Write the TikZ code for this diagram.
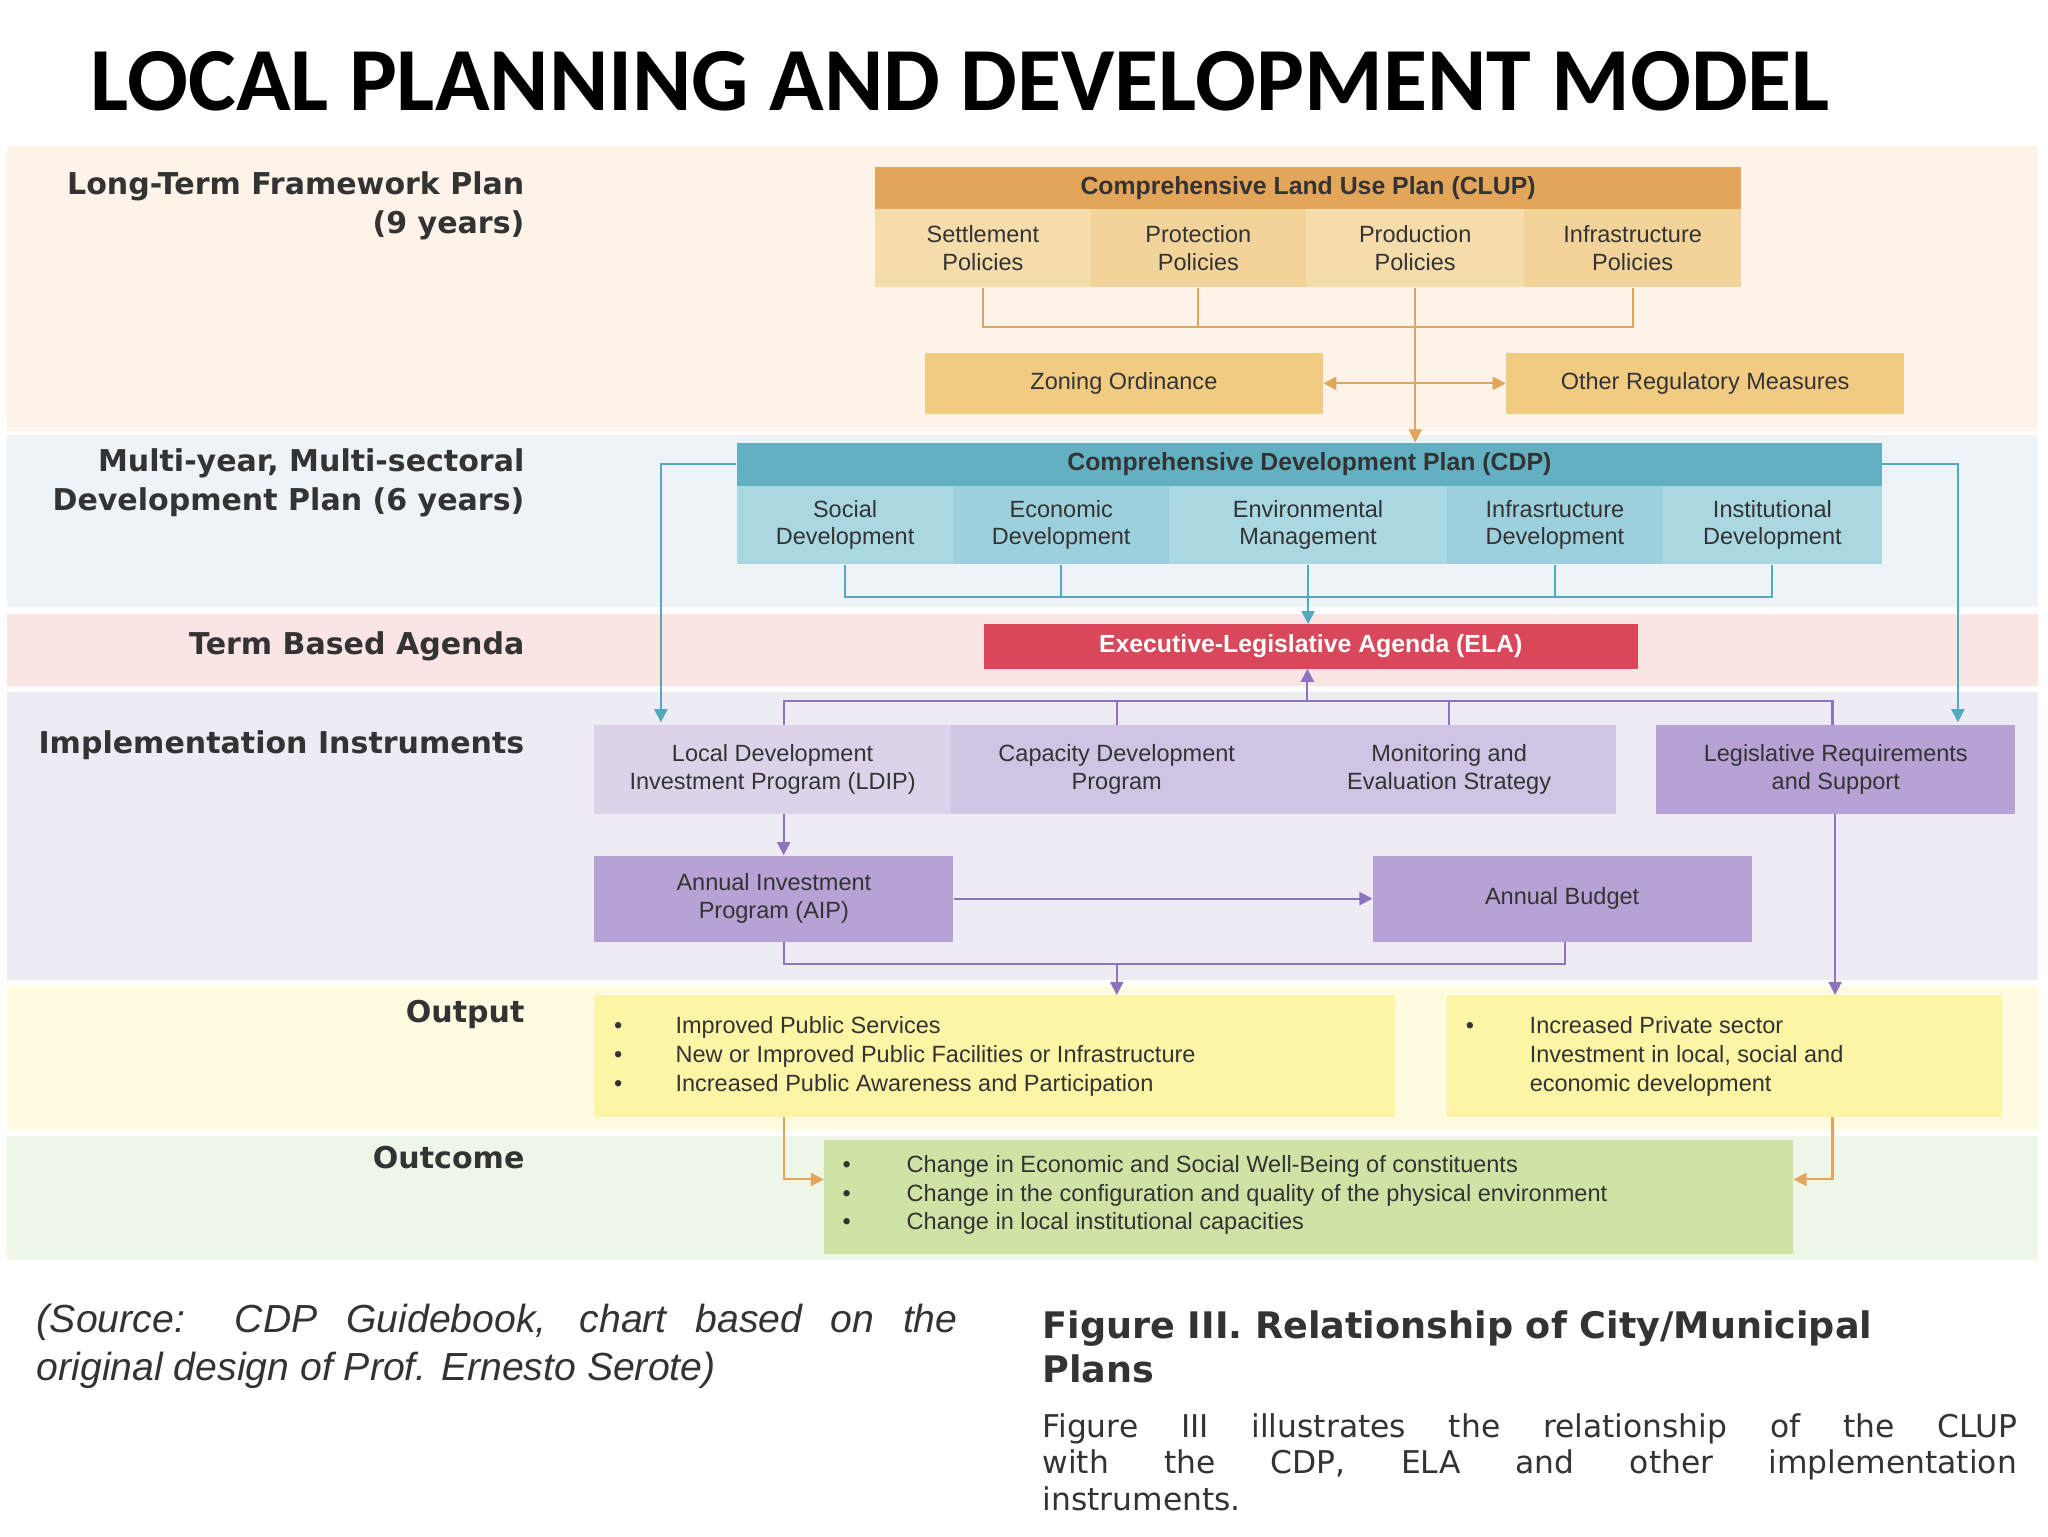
\documentclass[tikz,border=0pt]{standalone}
\usepackage{fontspec}
\setmainfont{Liberation Sans}
\newfontfamily\titlefont{Carlito}
\newfontfamily\capfont{DejaVu Sans}
\usetikzlibrary{arrows.meta,calc}
\definecolor{bandA}{HTML}{FDF3E8}
\definecolor{bandB}{HTML}{EEF3F8}
\definecolor{bandC}{HTML}{FBE4E4}
\definecolor{bandD}{HTML}{EFEBF5}
\definecolor{bandE}{HTML}{FEFBE0}
\definecolor{bandF}{HTML}{EEF6E8}
\definecolor{orH}{HTML}{E3A55A}
\definecolor{orS}{HTML}{F5DCAB}
\definecolor{orS2}{HTML}{F2D39A}
\definecolor{orZ}{HTML}{F2CB82}
\definecolor{tlH}{HTML}{62B0C2}
\definecolor{tlS}{HTML}{A9D8E3}
\definecolor{tlS2}{HTML}{9DD0DD}
\definecolor{elaC}{HTML}{D8475A}
\definecolor{puL}{HTML}{DCD3EA}
\definecolor{puM}{HTML}{D0C4E4}
\definecolor{puD}{HTML}{B6A2D4}
\definecolor{yeO}{HTML}{FDF5A6}
\definecolor{grO}{HTML}{CFE3A5}
\definecolor{orL}{HTML}{E3A55A}
\definecolor{tlL}{HTML}{52AABF}
\definecolor{puLn}{HTML}{8E73BF}
\definecolor{txt}{HTML}{333333}
\newcommand\bx[7]{\node[#6, minimum width={(#4-#2)*1pt}, minimum height={(#5-#3)*1pt}] (#1) at ({(#2+#4)/2},{(#3+#5)/2}) {#7};}
\tikzset{
 base/.style={inner sep=0pt, align=center, text=txt, font=\fontsize{18}{21}\selectfont},
 hdr/.style={base, font=\fontsize{19}{21}\selectfont\bfseries},
 lbl/.style={anchor=north east, align=right, text=txt, font=\capfont\fontsize{23}{30}\selectfont\bfseries},
 arr/.style={-{Triangle[width=10pt,length=10pt]}},
 ol/.style={draw=orL, line width=1.6pt},
 tl/.style={draw=tlL, line width=1.6pt},
 pl/.style={draw=puLn, line width=1.6pt},
}
\begin{document}
\begin{tikzpicture}[x=1pt,y=-1pt]
\useasboundingbox (0,0) rectangle (1568,1176);
\fill[white] (0,0) rectangle (1568,1176);
\node[anchor=west, font=\titlefont\fontsize{69}{72}\selectfont\bfseries] (title) at (66,62) {LOCAL PLANNING AND DEVELOPMENT MODEL};
% bands
\fill[bandA] (5,112) rectangle (1560,330);
\fill[bandB] (5,333) rectangle (1560,465);
\fill[bandC] (5,470) rectangle (1560,525);
\fill[bandD] (5,530) rectangle (1560,750);
\fill[bandE] (5,755) rectangle (1560,865);
\fill[bandF] (5,870) rectangle (1560,965);
% labels
\node[lbl] (l1) at (405,128) {Long-Term Framework Plan\\(9 years)};
\node[lbl] (l2) at (405,340) {Multi-year, Multi-sectoral\\Development Plan (6 years)};
\node[lbl] (l3) at (405,480) {Term Based Agenda};
\node[lbl] (l4) at (405,556) {Implementation Instruments};
\node[lbl] (l5) at (405,762) {Output};
\node[lbl] (l6) at (405,874) {Outcome};
% CLUP
\bx{clup}{670}{128}{1333}{160}{hdr,fill=orH}{Comprehensive Land Use Plan (CLUP)}
\bx{s1}{670}{160}{835}{220}{base,fill=orS}{Settlement\\Policies}
\bx{s2}{835}{160}{1000}{220}{base,fill=orS2}{Protection\\Policies}
\bx{s3}{1000}{160}{1167}{220}{base,fill=orS}{Production\\Policies}
\bx{s4}{1167}{160}{1333}{220}{base,fill=orS2}{Infrastructure\\Policies}
\bx{zon}{708}{270}{1013}{317}{base,fill=orZ}{Zoning Ordinance}
\bx{oth}{1153}{270}{1458}{317}{base,fill=orZ}{Other Regulatory Measures}
% CDP
\bx{cdp}{564}{339}{1441}{372}{hdr,fill=tlH}{Comprehensive Development Plan (CDP)}
\bx{c1}{564}{372}{730}{432}{base,fill=tlS}{Social\\Development}
\bx{c2}{730}{372}{895}{432}{base,fill=tlS2}{Economic\\Development}
\bx{c3}{895}{372}{1108}{432}{base,fill=tlS}{Environmental\\Management}
\bx{c4}{1108}{372}{1273}{432}{base,fill=tlS2}{Infrasrtucture\\Development}
\bx{c5}{1273}{372}{1441}{432}{base,fill=tlS}{Institutional\\Development}
% ELA
\bx{ela}{753}{478}{1254}{512}{hdr,fill=elaC,text=white}{Executive-Legislative Agenda (ELA)}
% Implementation
\bx{i1}{455}{555}{728}{623}{base,fill=puL}{Local Development\\Investment Program (LDIP)}
\bx{i2}{728}{555}{982}{623}{base,fill=puM}{Capacity Development\\Program}
\bx{i3}{982}{555}{1237}{623}{base,fill=puM}{Monitoring and\\Evaluation Strategy}
\bx{i4}{1268}{555}{1543}{623}{base,fill=puD}{Legislative Requirements\\and Support}
\bx{aip}{455}{655}{730}{721}{base,fill=puD}{Annual Investment\\Program (AIP)}
\bx{bud}{1051}{655}{1341}{721}{base,fill=puD}{Annual Budget}
% Output
\bx{o1}{455}{762}{1068}{855}{base,fill=yeO}{}
\bx{o2}{1108}{762}{1533}{855}{base,fill=yeO}{}
\node[anchor=north west, text=txt, font=\fontsize{18}{22}\selectfont, inner sep=0pt] (o1t) at (470,776)
 {\begin{tabular}{@{}p{47pt}@{}l@{}}\textbullet & Improved Public Services\\ \textbullet & New or Improved Public Facilities or Infrastructure\\ \textbullet & Increased Public Awareness and Participation\end{tabular}};
\node[anchor=north west, text=txt, font=\fontsize{18}{22}\selectfont, inner sep=0pt] (o2t) at (1122,776)
 {\begin{tabular}{@{}p{49pt}@{}l@{}}\textbullet & Increased Private sector\\ & Investment in local, social and\\ & economic development\end{tabular}};
% Outcome
\bx{oc}{631}{873}{1373}{960}{base,fill=grO}{}
\node[anchor=north west, text=txt, font=\fontsize{18}{22}\selectfont, inner sep=0pt] (oct) at (645,882)
 {\begin{tabular}{@{}p{49pt}@{}l@{}}\textbullet & Change in Economic and Social Well-Being of constituents\\ \textbullet & Change in the configuration and quality of the physical environment\\ \textbullet & Change in local institutional capacities\end{tabular}};
% connectors CLUP
\draw[ol] (s1.south) -- ++(0,30) -| (s4.south);
\draw[ol] (s2.south) -- ++(0,30);
\draw[ol,arr] (s3.south) -- (s3.south |- cdp.north);
\coordinate (zm) at (s3.south |- zon.east);
\draw[ol,arr] (zm) -- (zon.east);
\draw[ol,arr] (zm) -- (oth.west);
% CDP to ELA
\draw[tl] (c1.south) -- ++(0,25) -| (c5.south);
\draw[tl] (c2.south) -- ++(0,25);
\draw[tl] (c4.south) -- ++(0,25);
\draw[tl,arr] (c3.south) -- (c3.south |- ela.north);
\draw[tl,arr] (cdp.west) -| (506,553);
\draw[tl,arr] (cdp.east) -| (1499,553);
% Impl to ELA
\coordinate (pa) at (600,555);
\draw[pl] (pa) -- (600,537) -| (1403,555);
\draw[pl] (i2.north) -- (i2.north |- 0,537);
\draw[pl] (i3.north) -- (i3.north |- 0,537);
\draw[pl,arr] (1001,537) -- (1001,512);
\draw[pl,arr] (600,623) -- (aip.north -| 600,0);
\draw[pl,arr] (aip.east) -- (bud.west);
\draw[pl] (600,721) -- (600,738) -| (1198,721);
\draw[pl,arr] (855,738) -- (o1.north -| 855,0);
\draw[pl,arr] (1405,623) -- (o2.north -| 1405,0);
% output to outcome
\draw[ol,arr] (600,855) |- (oc.west |- 0,903);
\draw[ol,arr] (1403,855) |- (oc.east |- 0,903);
% footer
\node[anchor=north west, align=left, font=\fontsize{30}{37}\selectfont\itshape, text=txt, inner sep=0pt] (src) at (28,998)
 {\makebox[705pt][s]{(Source: CDP Guidebook, chart based on the}\\original design of Prof. Ernesto Serote)};
\node[anchor=north west, align=left, font=\capfont\fontsize{28}{34}\selectfont\bfseries, text=txt, inner sep=0pt] (fig) at (798,1003)
 {Figure III. Relationship of City/Municipal\\Plans};
\node[anchor=north west, align=left, font=\capfont\fontsize{24}{28}\selectfont, text=txt, inner sep=0pt] (par) at (798,1082)
 {\makebox[746pt][s]{Figure III illustrates the relationship of the CLUP}\\\makebox[746pt][s]{with the CDP, ELA and other implementation}\\instruments.};
\end{tikzpicture}
\end{document}
